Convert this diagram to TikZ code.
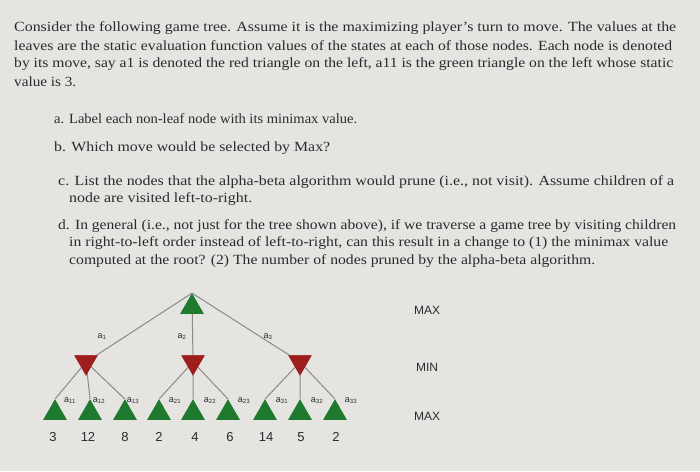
\documentclass[tikz,border=0pt]{standalone}
\usepackage{fontspec}
\usepackage{graphicx}
\setmainfont{Liberation Serif}
\newfontfamily\lab{Liberation Sans}
\usetikzlibrary{shapes.geometric}
\definecolor{bg}{HTML}{E6E4E0}
\definecolor{tx}{HTML}{2A2A30}
\definecolor{gr}{HTML}{1E7A2E}
\definecolor{rd}{HTML}{9E1E1E}
\definecolor{ln}{HTML}{8A8A86}
\newlength\fitlen
\newcommand\fitto[2]{\settowidth\fitlen{#2}\pgfmathsetmacro\fitr{#1/\fitlen}\scalebox{\fitr}[1]{#2}}
\tikzset{
 txt/.style={anchor=west,inner sep=0pt,text=tx,font=\fontsize{14}{16}\selectfont},
 maxn/.style={draw=none,fill=gr,regular polygon,regular polygon sides=3,minimum size=27pt,inner sep=0pt},
 minn/.style={draw=none,fill=rd,regular polygon,regular polygon sides=3,shape border rotate=180,minimum size=27pt,inner sep=0pt},
 edge/.style={draw=ln,line width=1pt},
 mv/.style={font=\lab\fontsize{9}{10}\selectfont,text=tx,inner sep=1pt},
 val/.style={font=\lab\fontsize{13}{15}\selectfont,text=tx,inner sep=0pt},
 lvl/.style={font=\lab\fontsize{12}{14}\selectfont,text=tx,inner sep=0pt}
}
\begin{document}
\begin{tikzpicture}[x=1pt,y=-1pt]
\useasboundingbox (0,0) rectangle (700,471);
\fill[bg] (0,0) rectangle (700,471);
\node[txt] (l1) at (14,28) {\fitto{662}{Consider the following game tree. Assume it is the maximizing player's turn to move. The values at the}};
\node[txt] (l2) at (14,46) {\fitto{658}{leaves are the static evaluation function values of the states at each of those nodes. Each node is denoted}};
\node[txt] (l3) at (14,64) {\fitto{659}{by its move, say a1 is denoted the red triangle on the left, a11 is the green triangle on the left whose static}};
\node[txt] (l4) at (14,82) {\fitto{62}{value is 3.}};
\node[txt] (a) at (54,119) {\fitto{303}{a. Label each non-leaf node with its minimax value.}};
\node[txt] (b) at (54,148) {\fitto{276}{b. Which move would be selected by Max?}};
\node[txt] (c1) at (58,182) {\fitto{616}{c. List the nodes that the alpha-beta algorithm would prune (i.e., not visit). Assume children of a}};
\node[txt] (c2) at (69,199) {\fitto{183}{node are visited left-to-right.}};
\node[txt] (d1) at (58,226) {\fitto{618}{d. In general (i.e., not just for the tree shown above), if we traverse a game tree by visiting children}};
\node[txt] (d2) at (69,243) {\fitto{599}{in right-to-left order instead of left-to-right, can this result in a change to (1) the minimax value}};
\node[txt] (d3) at (69,261) {\fitto{526}{computed at the root? (2) The number of nodes pruned by the alpha-beta algorithm.}};

\node[maxn] (r) at (192,307) {};
\node[minn] (m1) at (86,362) {};
\node[minn] (m2) at (193,362) {};
\node[minn] (m3) at (300,362) {};
\foreach \i/\x in {1/55,2/90,3/125,4/159,5/193,6/228,7/265,8/300,9/335}
  \node[maxn] (f\i) at (\x,413) {};
\draw[edge] (r.north) -- (m1.center) (r.north) -- (m2.center) (r.north) -- (m3.center);
\foreach \m/\a/\b/\c in {m1/1/2/3,m2/4/5/6,m3/7/8/9}{
  \draw[edge] (\m.center) -- (f\a.north) (\m.center) -- (f\b.north) (\m.center) -- (f\c.north);
}
\node[maxn] at (r) {};
\foreach \m in {m1,m2,m3} \node[minn] at (\m) {};
\foreach \i in {1,...,9} \node[maxn] at (f\i) {};
\node[mv] (t1) at (102,337) {a\textsubscript{1}};
\node[mv] (t2) at (182,337) {a\textsubscript{2}};
\node[mv] (t3) at (268,337) {a\textsubscript{3}};
\foreach \i/\x/\s in {1/70/11,2/99/12,3/133/13,4/175/21,5/210/22,6/244/23,7/282/31,8/317/32,9/351/33}
  \node[mv] (s\i) at (\x,401) {a\textsubscript{\s}};
\foreach \i/\x/\v in {1/53/3,2/88/12,3/125/8,4/159/2,5/195/4,6/230/6,7/266/14,8/301/5,9/336/2}
  \node[val] (v\i) at (\x,437) {\v};
\node[lvl] (L1) at (427,310) {MAX};
\node[lvl] (L2) at (427,367) {MIN};
\node[lvl] (L3) at (427,416) {MAX};
\end{tikzpicture}
\end{document}
